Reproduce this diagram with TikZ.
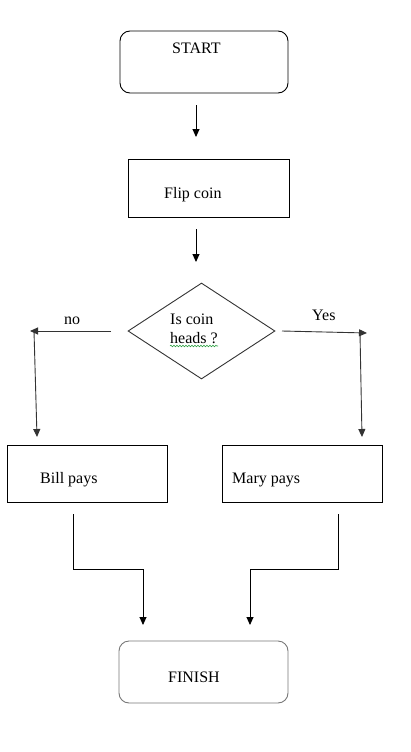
\documentclass[tikz,border=0pt]{standalone}
\usepackage{fontspec}
\setmainfont{Liberation Serif}
\usetikzlibrary{arrows.meta,shapes.geometric,decorations.pathmorphing}
\definecolor{edge}{HTML}{333333}
\definecolor{soft}{HTML}{777777}
\definecolor{spell}{HTML}{2EA043}
\tikzset{>={Triangle[width=7pt,length=8pt]},box/.style={draw,line width=.9pt,inner sep=0pt,minimum width=160pt,minimum height=57pt},term/.style={box,rounded corners=10pt,minimum height=62pt},arr/.style={->,line width=.9pt},lbl/.style={anchor=base west,inner sep=0pt,font=\fontsize{16}{19}\selectfont}}

\begin{document}
\begin{tikzpicture}[x=1pt,y=-1pt]
\useasboundingbox (0,0) rectangle (411,752);
% boxes
\node[term,minimum width=168pt] (start) at (204,62) {};
\node[box,minimum width=161pt,minimum height=58pt] (flip) at (208.5,188) {};
\node[diamond,draw=edge,line width=.9pt,inner sep=0pt,minimum width=147pt,minimum height=96pt] (coin) at (201.5,331) {};
\node[box] (bill) at (87,473.5) {};
\node[box] (mary) at (302,473.5) {};
\node[term,draw=soft,minimum width=169pt] (finish) at (203.5,672) {};
% texts
\foreach \n/\x/\y/\t in {tstart/172/54/START,tflip/164/198/Flip coin,tis/170/324/Is coin,theads/170/343/heads ?,tbill/40/483/Bill pays,tmary/232/483/Mary pays,tfinish/168/682/FINISH,tno/64/324/no,tyes/312/320/Yes}{\node[lbl] (\n) at (\x,\y) {\t};}
\draw[spell,line width=.6pt,decorate,decoration={snake,amplitude=.8pt,segment length=3pt}] (theads.base west) ++(0,3) -- ++(48,0);
% free arrow ends
\foreach \n/\x/\y in {a/196/105,b/196/137,c/196/229,d/196/262,e/111/331,f/30/331,g/34/331,h/37/437,i/282/331,j/367/333,k/360/333,l/362/437,m/73/514,n/143/625,o/338/514,p/250/625}{\coordinate (\n) at (\x,\y);}
\draw[arr] (a)--(b);
\draw[arr] (c)--(d);
\draw[arr,edge] (e)--(f);
\draw[arr,edge] (g)--(h);
\draw[arr,edge] (i)--(j);
\draw[arr,edge] (k)--(l);
\draw[arr] (m)--(73,569)--(143,569)--(n);
\draw[arr] (o)--(338,569)--(250,569)--(p);
\end{tikzpicture}
\end{document}
